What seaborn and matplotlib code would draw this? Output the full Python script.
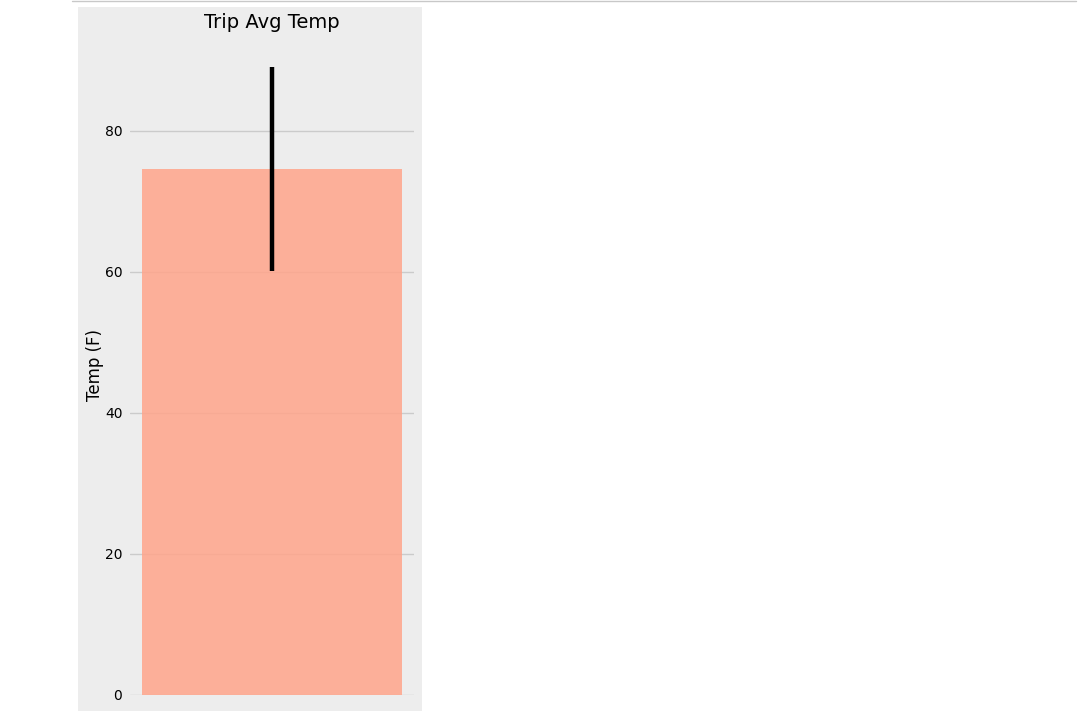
import numpy as np
import pandas as pd
import matplotlib
matplotlib.use("Agg")
import matplotlib.pyplot as plt
import seaborn as sns
from matplotlib.patches import Rectangle
from matplotlib.lines import Line2D

# dane z wykresu (temperatury w F)
trip_label = ["Trip"]
tmin = [60.1]
tavg = [74.6]
tmax = [89.1]

BG = "#ededed"

sns.set_style("whitegrid", {
    "axes.facecolor": BG,
    "grid.color": "#cbcbcb",
    "axes.edgecolor": BG,
    "text.color": "black",
    "axes.labelcolor": "black",
    "ytick.color": "black",
})
plt.rcParams["font.family"] = ["DejaVu Sans"]

fig = plt.figure(figsize=(10.8, 7.25), dpi=100, facecolor="white")

# szare tlo "obrazka" osadzonego w notatniku
fig.add_artist(Rectangle((78 / 1080, 14 / 725), 344 / 1080, 704 / 725,
                         transform=fig.transFigure, facecolor=BG,
                         edgecolor="none", zorder=0))
# cienka ramka u gory
fig.add_artist(Line2D([72 / 1080, 1076 / 1080], [0.9985, 0.9985],
                      transform=fig.transFigure, color="#c8c8c8", lw=1))

ax = fig.add_axes([130 / 1080, 30 / 725, 284 / 1080, 660 / 725])

df = pd.DataFrame({"trip": trip_label, "tavg": tavg})
sns.barplot(data=df, x="trip", y="tavg", color="#ffa58b", alpha=0.85,
            saturation=1, width=0.8, errorbar=None, linewidth=0,
            ax=ax, zorder=2)

yerr = (np.array(tmax) - np.array(tmin)) / 2
ax.errorbar(x=[0], y=tavg, yerr=yerr, fmt="none", ecolor="black",
            elinewidth=3.2, capsize=0, zorder=3)

ax.set_xlim(-0.4355, 0.4355)
ax.set_ylim(0, 93.6)
ax.set_yticks([0, 20, 40, 60, 80])
ax.set_xticks([])
ax.set_xlabel("")
ax.grid(axis="x", visible=False)
ax.grid(axis="y", linewidth=1, color="#cbcbcb")
ax.set_axisbelow(True)
ax.tick_params(axis="y", length=0, labelsize=10, pad=5.5)
for s in ax.spines.values():
    s.set_visible(False)

ax.set_ylabel("Temp (F)", fontsize=12, labelpad=0.5)
ax.set_title("Trip Avg Temp", fontsize=14, pad=5)

fig.savefig("out.png", dpi=100, facecolor="white")
